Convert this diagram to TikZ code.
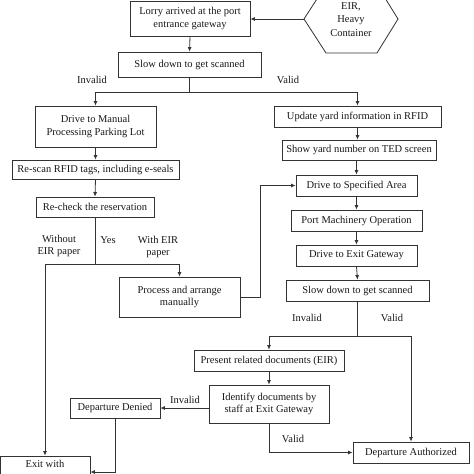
\documentclass[tikz,border=0pt]{standalone}
\usepackage{fontspec}
\setmainfont{Liberation Serif}
\usetikzlibrary{arrows.meta}
\begin{document}
\begin{tikzpicture}[x=1pt,y=-1pt, font=\fontsize{10.5}{12.5}\selectfont,
 box/.style={draw=black!80, line width=0.8pt, rectangle, align=center, inner sep=1pt, text=black!90},
 lbl/.style={align=center, inner sep=0pt, text=black!90},
 conn/.style={draw=black!80, line width=0.8pt},
 arr/.style={conn, -{Latex[length=4.5pt,width=4pt]}}]
\useasboundingbox (0,0) rectangle (474,474);
\clip (0,0) rectangle (474,474);
\fill[white] (0,0) rectangle (474,474);

% nodes
\node[box, minimum width=120pt, minimum height=35pt] (lorry) at (190,18.5) {Lorry arrived at the port\\entrance gateway};
\node[lbl, font=\fontsize{10.5}{13.5}\selectfont] (hex) at (351,19.5) {EIR,\\Heavy\\Container};
\draw[conn] (304,19) -- (326,-15) -- (377,-15) -- (398,19) -- (377,53) -- (326,53) -- cycle;
\coordinate (hexL) at (304,19);

\node[box, minimum width=143pt, minimum height=25pt] (scan1) at (189.5,64.5) {Slow down to get scanned};
\node[box, minimum width=121pt, minimum height=41pt] (manual) at (95.5,126.5) {Drive to Manual\\Processing Parking Lot};
\node[box, minimum width=167pt, minimum height=21pt] (update) at (357.5,116.5) {Update yard information in RFID};
\node[box, minimum width=154pt, minimum height=20pt] (show) at (359,150) {Show yard number on TED screen};
\node[box, minimum width=167pt, minimum height=19pt] (rescan) at (95.5,169.5) {Re-scan RFID tags, including e-seals};
\node[box, minimum width=118pt, minimum height=20pt] (recheck) at (95,207) {Re-check the reservation};
\node[box, minimum width=121pt, minimum height=40pt] (process) at (179.5,297) {Process and arrange\\manually};
\node[box, minimum width=121pt, minimum height=21pt] (area) at (356.5,185.5) {Drive to Specified Area};
\node[box, minimum width=131pt, minimum height=21pt] (mach) at (356.5,220.5) {Port Machinery Operation};
\node[box, minimum width=121pt, minimum height=21pt] (exitgw) at (356.5,255.5) {Drive to Exit Gateway};
\node[box, minimum width=143pt, minimum height=21pt] (scan2) at (357.5,290.5) {Slow down to get scanned};
\node[box, minimum width=150pt, minimum height=21pt] (present) at (269,360.5) {Present related documents (EIR)};
\node[box, minimum width=120pt, minimum height=38pt] (identify) at (269,404) {Identify documents by\\staff at Exit Gateway};
\node[box, minimum width=90pt, minimum height=20pt] (denied) at (115,408) {Departure Denied};
\node[box, minimum width=116pt, minimum height=21pt] (auth) at (411,452.5) {Departure Authorized};
\node[box, minimum width=90pt, minimum height=32pt, font=\fontsize{10.5}{12}\selectfont] (exitw) at (45,472) {Exit with\\\strut};

% labels
\node[lbl] (l1) at (92,80) {Invalid};
\node[lbl] (l2) at (288,80) {Valid};
\node[lbl] (l3) at (59,246) {Without\\EIR paper};
\node[lbl] (l4) at (108,240) {Yes};
\node[lbl] (l5) at (158,247) {With EIR\\paper};
\node[lbl] (l6) at (307,318) {Invalid};
\node[lbl] (l7) at (392,318) {Valid};
\node[lbl] (l8) at (185,400) {Invalid};
\node[lbl] (l9) at (293,439) {Valid};

% connectors
\draw[arr] (hexL) -- (lorry.east |- hexL);
\draw[arr] (lorry.south) -- (scan1.north);
\coordinate (j1) at (189.5,92);
\draw[conn] (scan1.south) -- (j1);
\draw[arr] (j1) -| (manual.north);
\draw[arr] (j1) -| (update.north);
\draw[arr] (update.south) -- (update.south |- show.north);
\draw[arr] (show.south -| area.north) -- (area.north);
\draw[arr] (manual.south) -- (rescan.north);
\draw[arr] (rescan.south) -- (recheck.north);
\coordinate (j2) at (95,264);
\draw[conn] (recheck.south) -- (j2);
\draw[arr] (j2) -| (process.north);
\draw[arr] (j2) -| (exitw.north);
\coordinate (j3) at (260,297);
\draw[arr] (process.east) -- (j3) |- (area.west);
\draw[arr] (area.south) -- (mach.north);
\draw[arr] (mach.south) -- (exitgw.north);
\draw[arr] (exitgw.south) -- (scan2.north);
\coordinate (j4) at (357.5,336);
\draw[conn] (scan2.south) -- (j4);
\draw[arr] (j4) -| (present.north);
\draw[arr] (j4) -| (auth.north);
\draw[arr] (present.south) -- (identify.north);
\draw[arr] (identify.west |- denied.east) -- (denied.east);
\draw[arr] (denied.south) |- (exitw.east);
\draw[arr] (identify.south) |- (auth.west);
\end{tikzpicture}
\end{document}
